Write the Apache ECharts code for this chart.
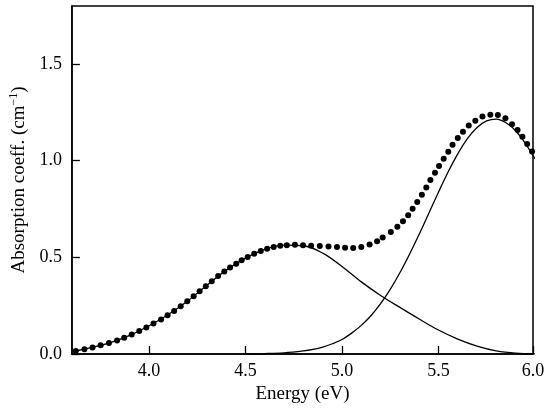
<!DOCTYPE html>
<html>
<head>
<meta charset="utf-8">
<script src="https://cdn.jsdelivr.net/npm/echarts@6/dist/echarts.min.js"></script>
<style>
html,body{margin:0;padding:0;background:#fff;}
#chart{width:550px;height:412px;}
</style>
</head>
<body>
<div id="chart"></div>
<script>
// Measured absorption (dots)
const dotEnergy = [3.620,3.665,3.707,3.749,3.792,3.834,3.871,3.910,3.949,3.986,4.023,4.062,4.096,4.130,4.164,4.198,4.231,4.262,4.294,4.325,4.358,4.390,4.420,4.452,4.480,4.511,4.545,4.579,4.612,4.646,4.680,4.714,4.756,4.798,4.840,4.885,4.930,4.974,5.016,5.058,5.100,5.143,5.182,5.211,5.253,5.287,5.316,5.343,5.366,5.390,5.414,5.437,5.458,5.482,5.503,5.527,5.551,5.573,5.600,5.627,5.657,5.691,5.728,5.769,5.808,5.847,5.881,5.910,5.935,5.960,5.985];
const dotAbs    = [0.015,0.024,0.034,0.045,0.057,0.070,0.084,0.101,0.119,0.137,0.158,0.179,0.201,0.223,0.247,0.273,0.299,0.325,0.351,0.376,0.404,0.427,0.447,0.467,0.485,0.502,0.519,0.533,0.545,0.553,0.560,0.563,0.565,0.563,0.560,0.558,0.556,0.553,0.550,0.548,0.554,0.566,0.583,0.603,0.631,0.658,0.687,0.718,0.751,0.786,0.824,0.861,0.900,0.938,0.972,1.010,1.046,1.082,1.117,1.149,1.182,1.206,1.228,1.237,1.236,1.220,1.189,1.158,1.124,1.086,1.048];

// Fitted band 1 (solid)
const band1Energy = [3.6,3.7,3.8,3.9,4.0,4.1,4.2,4.3,4.4,4.5,4.6,4.7,4.8,4.9,5.0,5.1,5.2,5.3,5.4,5.5,5.6,5.7,5.8,5.9,6.0];
const band1Abs    = [0.012,0.033,0.059,0.096,0.146,0.204,0.274,0.356,0.434,0.496,0.541,0.563,0.560,0.522,0.453,0.373,0.303,0.241,0.181,0.124,0.077,0.041,0.016,0.004,0.001];

// Fitted band 2 (solid)
const band2Energy = [4.5,4.6,4.7,4.8,4.85,4.9,4.95,5.0,5.05,5.1,5.15,5.2,5.25,5.3,5.35,5.4,5.45,5.5,5.55,5.6,5.65,5.7,5.75,5.8,5.85,5.9,5.95,6.0];
const band2Abs    = [0.0,0.002,0.006,0.016,0.024,0.036,0.053,0.075,0.108,0.148,0.198,0.260,0.334,0.420,0.516,0.619,0.728,0.837,0.941,1.035,1.114,1.172,1.206,1.215,1.196,1.155,1.090,1.010];

// Axis settings
const xRange = [3.6, 5.99];
const yRange = [0, 1.8];
const xTitle = 'Energy (eV)';
const yTitle = '{a|Absorption coeff. (cm}{s|−1}{a|)}';

const zip = (xs, ys) => xs.map((x, i) => [x, ys[i]]);
const FONT = 'Liberation Serif';

const chart = echarts.init(document.getElementById('chart'), null, {renderer: 'canvas'});
chart.setOption({
  animation: false,
  backgroundColor: '#fff',
  grid: {left: 65, right: 17, top: 6, bottom: 58, show: true, borderColor: '#000', borderWidth: 1.5, backgroundColor: 'transparent'},
  xAxis: {
    type: 'value', min: xRange[0], max: xRange[1], minInterval: 0.5, maxInterval: 0.5,
    name: xTitle, nameLocation: 'middle', nameGap: 30,
    nameTextStyle: {fontFamily: FONT, fontSize: 19, color: '#000'},
    axisLine: {show: true, lineStyle: {color: '#000', width: 1.5}},
    axisTick: {show: true, inside: true, length: 8, lineStyle: {color: '#000', width: 1.3}},
    axisLabel: {showMinLabel: false, margin: 8, fontFamily: FONT, fontSize: 18, color: '#000', formatter: v => v.toFixed(1)},
    splitLine: {show: false}
  },
  yAxis: {
    type: 'value', min: yRange[0], max: yRange[1], interval: 0.5,
    name: yTitle, nameLocation: 'middle', nameGap: 37,
    nameTextStyle: {fontFamily: FONT, fontSize: 19, color: '#000',
      rich: {
        a: {fontFamily: FONT, fontSize: 19, color: '#000', lineHeight: 22},
        s: {fontFamily: FONT, fontSize: 12, color: '#000', verticalAlign: 'top', lineHeight: 14}
      }},
    axisLine: {show: true, lineStyle: {color: '#000', width: 1.5}},
    axisTick: {show: true, inside: true, length: 8, lineStyle: {color: '#000', width: 1.3}},
    axisLabel: {showMaxLabel: false, margin: 10, fontFamily: FONT, fontSize: 18, color: '#000', formatter: v => v.toFixed(1)},
    splitLine: {show: false}
  },
  series: [
    {type: 'line', data: zip(band1Energy, band1Abs), smooth: 0.35, showSymbol: false, clip: true,
     lineStyle: {color: '#000', width: 1.3}},
    {type: 'line', data: zip(band2Energy, band2Abs), smooth: 0.35, showSymbol: false, clip: true,
     lineStyle: {color: '#000', width: 1.3}},
    {type: 'scatter', data: zip(dotEnergy, dotAbs), symbol: 'circle', symbolSize: 6, clip: true,
     itemStyle: {color: '#000', opacity: 1}}
  ]
});
</script>
</body>
</html>
